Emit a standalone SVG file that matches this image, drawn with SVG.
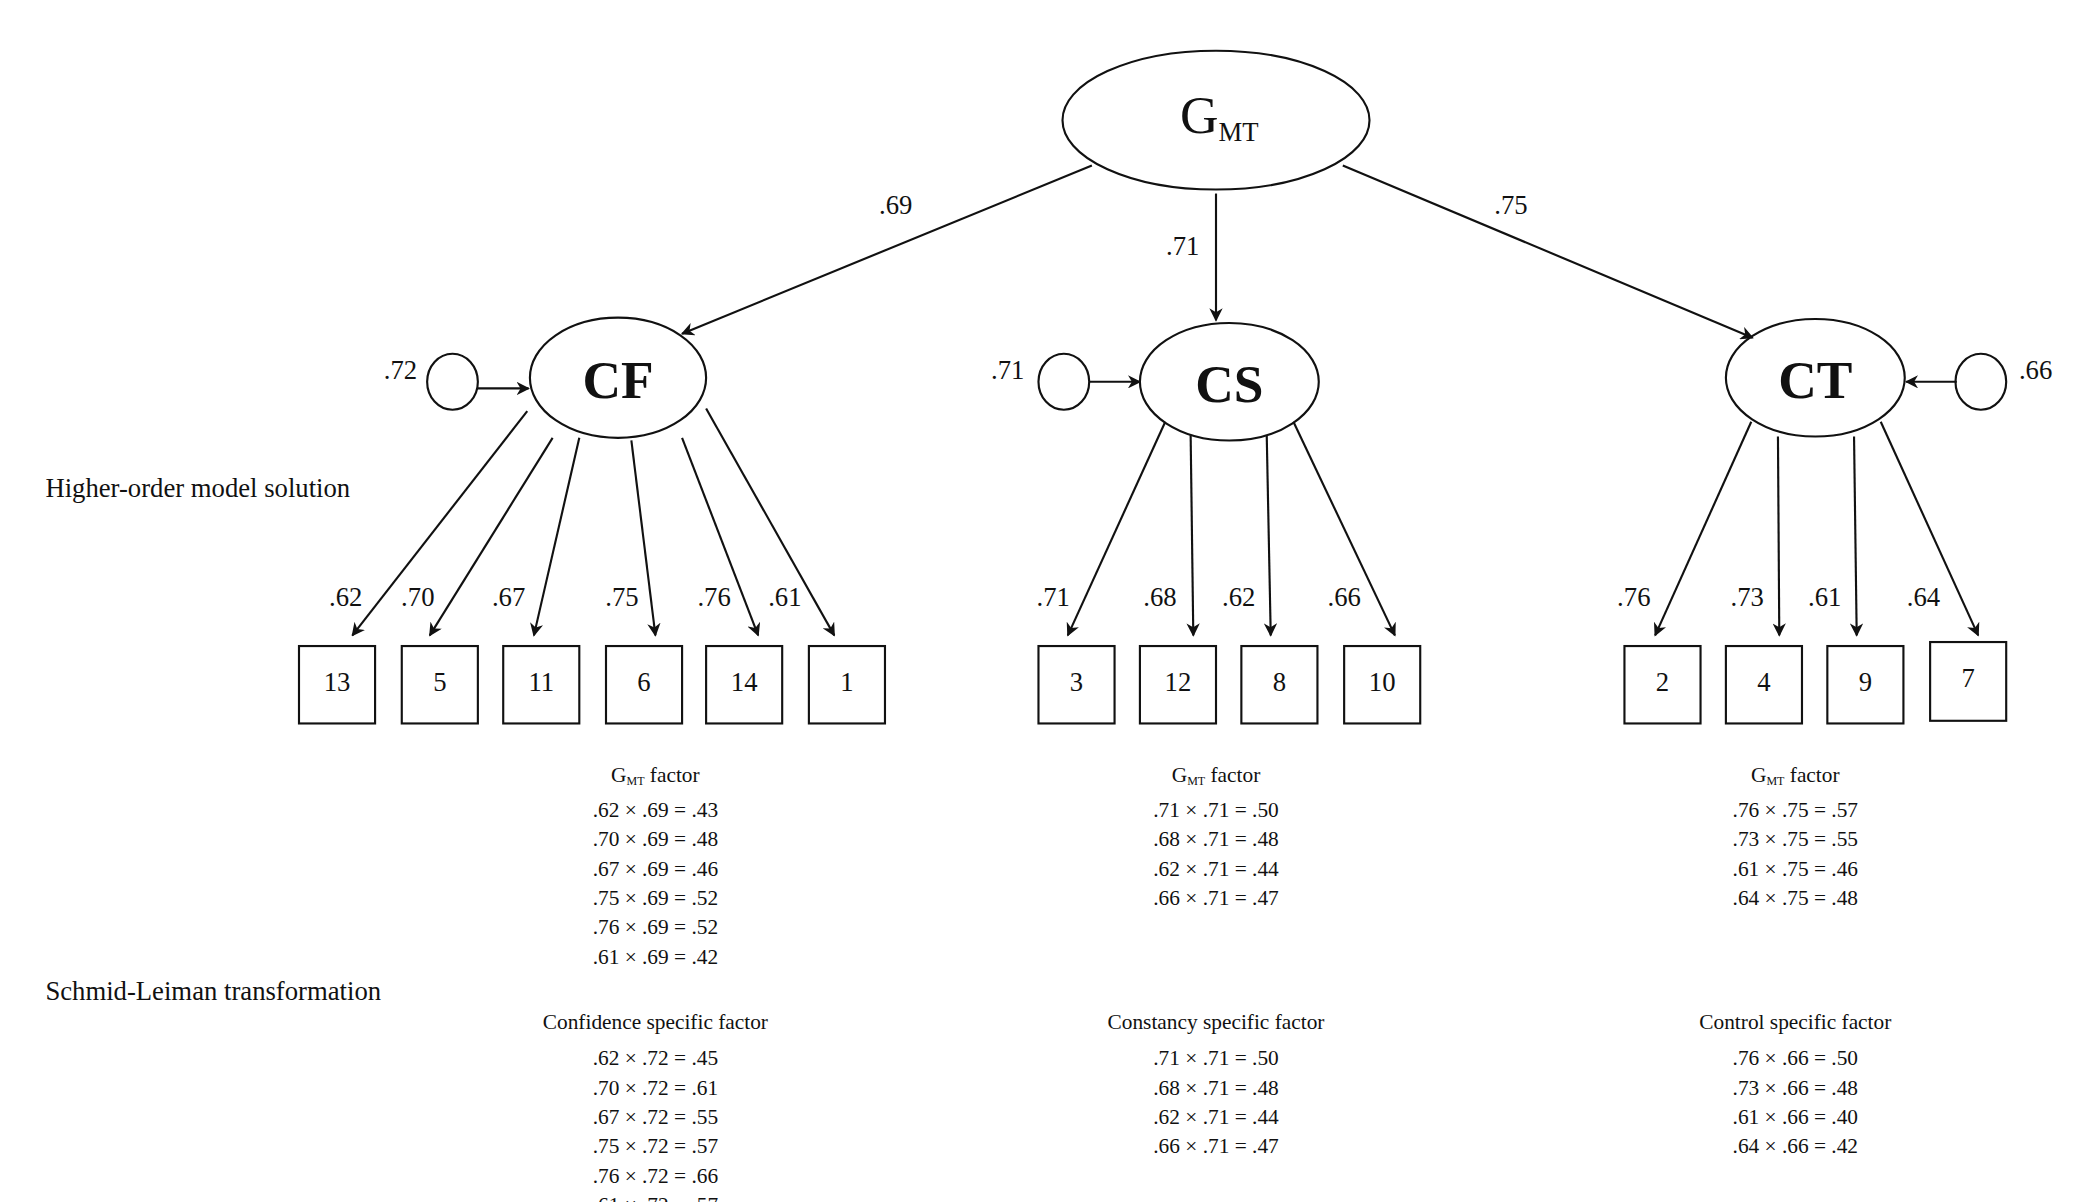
<svg xmlns="http://www.w3.org/2000/svg" width="2093" height="1202" viewBox="0 0 2093 1202">
<defs><marker id="a" viewBox="0 0 10 10" refX="9" refY="5" markerWidth="10" markerHeight="10" markerUnits="userSpaceOnUse" orient="auto"><path d="M0,0 L10,5 L0,10 L3,5 z" fill="#111"/></marker></defs>
<style>
text{font-family:"Liberation Serif",serif;fill:#111}
.n{font-size:20px}.t{font-size:16px;text-anchor:middle}.c{text-anchor:middle}
.s{fill:none;stroke:#111;stroke-width:1.6}
.l{stroke:#111;stroke-width:1.6;marker-end:url(#a)}
.b{font-weight:bold;font-size:40px;text-anchor:middle}
</style>
<rect width="2093" height="1202" fill="#fff"/>
<g transform="scale(1.3348)">
<g id="connectors">
<line class="l" x1="818" y1="124" x2="511" y2="250"/>
<line class="l" x1="911" y1="145" x2="911" y2="240"/>
<line class="l" x1="1006" y1="124" x2="1313" y2="253"/>
<line class="l" x1="358" y1="291" x2="396" y2="291"/>
<line class="l" x1="816" y1="286" x2="854" y2="286"/>
<line class="l" x1="1466" y1="286" x2="1428" y2="286"/>
<line class="l" x1="395" y1="308" x2="264" y2="476"/>
<line class="l" x1="414" y1="328" x2="322" y2="476"/>
<line class="l" x1="434" y1="328" x2="400" y2="476"/>
<line class="l" x1="473" y1="330" x2="491" y2="476"/>
<line class="l" x1="511" y1="328" x2="568" y2="476"/>
<line class="l" x1="529" y1="306" x2="625" y2="476"/>
<line class="l" x1="873" y1="316" x2="800" y2="476"/>
<line class="l" x1="892" y1="326" x2="894" y2="476"/>
<line class="l" x1="949" y1="326" x2="952" y2="476"/>
<line class="l" x1="969" y1="316" x2="1045" y2="476"/>
<line class="l" x1="1312" y1="316" x2="1240" y2="476"/>
<line class="l" x1="1332" y1="327" x2="1333" y2="476"/>
<line class="l" x1="1389" y1="327" x2="1391" y2="476"/>
<line class="l" x1="1409" y1="316" x2="1482" y2="476"/>
</g>
<g id="labels" class="n">
<text x="671" y="160" class="c">.69</text><text x="886" y="191" class="c">.71</text><text x="1132" y="160" class="c">.75</text>
<text x="300" y="284" class="c">.72</text><text x="755" y="284" class="c">.71</text><text x="1525" y="284" class="c">.66</text>
<g class="c">
<text x="259" y="454">.62</text><text x="313" y="454">.70</text><text x="381" y="454">.67</text><text x="466" y="454">.75</text><text x="535" y="454">.76</text><text x="588" y="454">.61</text>
<text x="789" y="454">.71</text><text x="869" y="454">.68</text><text x="928" y="454">.62</text><text x="1007" y="454">.66</text>
<text x="1224" y="454">.76</text><text x="1309" y="454">.73</text><text x="1367" y="454">.61</text><text x="1441" y="454">.64</text>
</g>
</g>
<g id="GMT"><ellipse class="s" cx="911" cy="90" rx="115" ry="52"/><text x="884" y="100" font-size="40">G<tspan font-size="20" dy="6">MT</tspan></text></g>
<g id="CF"><ellipse class="s" cx="463" cy="283" rx="66" ry="45"/><text class="b" x="463" y="298">CF</text></g>
<g id="CS"><ellipse class="s" cx="921" cy="286" rx="67" ry="44"/><text class="b" x="921" y="301">CS</text></g>
<g id="CT"><ellipse class="s" cx="1360" cy="283" rx="67" ry="44"/><text class="b" x="1360" y="298">CT</text></g>
<g id="eCF"><ellipse class="s" cx="339" cy="286" rx="19" ry="21"/></g>
<g id="eCS"><ellipse class="s" cx="797" cy="286" rx="19" ry="21"/></g>
<g id="eCT"><ellipse class="s" cx="1484" cy="286" rx="19" ry="21"/></g>
<g class="n">
<g id="i13"><rect class="s" x="224" y="484" width="57" height="58"/><text class="c" x="252.5" y="518">13</text></g>
<g id="i5"><rect class="s" x="301" y="484" width="57" height="58"/><text class="c" x="329.5" y="518">5</text></g>
<g id="i11"><rect class="s" x="377" y="484" width="57" height="58"/><text class="c" x="405.5" y="518">11</text></g>
<g id="i6"><rect class="s" x="454" y="484" width="57" height="58"/><text class="c" x="482.5" y="518">6</text></g>
<g id="i14"><rect class="s" x="529" y="484" width="57" height="58"/><text class="c" x="557.5" y="518">14</text></g>
<g id="i1"><rect class="s" x="606" y="484" width="57" height="58"/><text class="c" x="634.5" y="518">1</text></g>
<g id="i3"><rect class="s" x="778" y="484" width="57" height="58"/><text class="c" x="806.5" y="518">3</text></g>
<g id="i12"><rect class="s" x="854" y="484" width="57" height="58"/><text class="c" x="882.5" y="518">12</text></g>
<g id="i8"><rect class="s" x="930" y="484" width="57" height="58"/><text class="c" x="958.5" y="518">8</text></g>
<g id="i10"><rect class="s" x="1007" y="484" width="57" height="58"/><text class="c" x="1035.5" y="518">10</text></g>
<g id="i2"><rect class="s" x="1217" y="484" width="57" height="58"/><text class="c" x="1245.5" y="518">2</text></g>
<g id="i4"><rect class="s" x="1293" y="484" width="57" height="58"/><text class="c" x="1321.5" y="518">4</text></g>
<g id="i9"><rect class="s" x="1369" y="484" width="57" height="58"/><text class="c" x="1397.5" y="518">9</text></g>
<g id="i7"><rect class="s" x="1446" y="481" width="57" height="59"/><text class="c" x="1474.5" y="515">7</text></g>
</g>
<g id="notes">
<text x="34" y="372" font-size="20">Higher-order model solution</text>
<text x="34" y="749" font-size="20">Schmid-Leiman transformation</text>
<g class="t">
<text x="491" y="586">G<tspan font-size="9" dy="2">MT</tspan><tspan dy="-2"> factor</tspan></text>
<text x="491" y="612">.62 × .69 = .43</text><text x="491" y="634">.70 × .69 = .48</text><text x="491" y="656">.67 × .69 = .46</text><text x="491" y="678">.75 × .69 = .52</text><text x="491" y="700">.76 × .69 = .52</text><text x="491" y="722">.61 × .69 = .42</text>
<text x="911" y="586">G<tspan font-size="9" dy="2">MT</tspan><tspan dy="-2"> factor</tspan></text>
<text x="911" y="612">.71 × .71 = .50</text><text x="911" y="634">.68 × .71 = .48</text><text x="911" y="656">.62 × .71 = .44</text><text x="911" y="678">.66 × .71 = .47</text>
<text x="1345" y="586">G<tspan font-size="9" dy="2">MT</tspan><tspan dy="-2"> factor</tspan></text>
<text x="1345" y="612">.76 × .75 = .57</text><text x="1345" y="634">.73 × .75 = .55</text><text x="1345" y="656">.61 × .75 = .46</text><text x="1345" y="678">.64 × .75 = .48</text>
<text x="491" y="771">Confidence specific factor</text>
<text x="491" y="798">.62 × .72 = .45</text><text x="491" y="820">.70 × .72 = .61</text><text x="491" y="842">.67 × .72 = .55</text><text x="491" y="864">.75 × .72 = .57</text><text x="491" y="886">.76 × .72 = .66</text><text x="491" y="908">.61 × .72 = .57</text>
<text x="911" y="771">Constancy specific factor</text>
<text x="911" y="798">.71 × .71 = .50</text><text x="911" y="820">.68 × .71 = .48</text><text x="911" y="842">.62 × .71 = .44</text><text x="911" y="864">.66 × .71 = .47</text>
<text x="1345" y="771">Control specific factor</text>
<text x="1345" y="798">.76 × .66 = .50</text><text x="1345" y="820">.73 × .66 = .48</text><text x="1345" y="842">.61 × .66 = .40</text><text x="1345" y="864">.64 × .66 = .42</text>
</g>
</g>
</g>
</svg>
